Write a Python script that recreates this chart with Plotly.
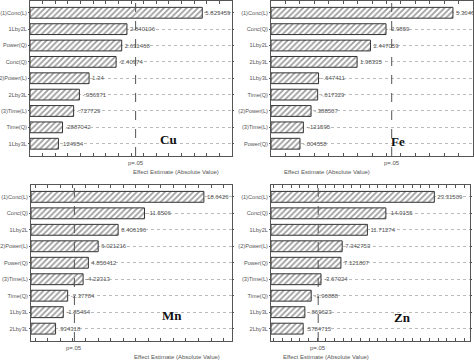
import plotly.graph_objects as go

W, H = 474, 361

# ---------------- data ----------------
cu_labels = ["(1)Conc(L)", "1Lby2L", "Power(Q)", "Conc(Q)", "(2)Power(L)", "2Lby3L", "(3)Time(L)", "Time(Q)", "1Lby3L"]
cu_values = [5.823459, 2.840106, 2.631468, -2.40974, 1.34, -0.956371, -0.727729, 0.2887042, 0.124954]

fe_labels = ["(1)Conc(L)", "Conc(Q)", "1Lby2L", "2Lby3L", "1Lby3L", "Time(Q)", "(2)Power(L)", "(3)Time(L)", "Power(Q)"]
fe_values = [5.30469, -2.9859, 2.447059, 1.98335, -0.647411, -0.617329, -0.388507, -0.121595, -0.004558]

mn_labels = ["(1)Conc(L)", "Conc(Q)", "1Lby2L", "(2)Power(L)", "Power(Q)", "(3)Time(L)", "Time(Q)", "1Lby3L", "2Lby3L"]
mn_values = [18.6426, -11.5506, 8.406196, 6.021216, 4.850412, -4.22313, -2.37784, -1.85464, 0.934318]

zn_labels = ["(1)Conc(L)", "Conc(Q)", "1Lby2L", "(2)Power(L)", "Power(Q)", "(3)Time(L)", "Time(Q)", "1Lby3L", "2Lby3L"]
zn_values = [23.31509, -14.9155, 11.71274, 7.342753, 7.121807, -3.67024, -1.96888, -0.869623, 0.5784715]

p05_t = 3.182446  # critical t at p=.05
panel_names = ["Cu", "Fe", "Mn", "Zn"]

# ---------------- layout helpers ----------------
def fmt(v):
    s = f"{v:.7g}"
    if s.startswith("0."):
        s = s[1:]
    elif s.startswith("-0."):
        s = "-" + s[2:]
    return s

def px(x):
    return x / W

def py(y):
    return 1 - y / H

# pixel boxes (left, right, top, bottom), axis ranges, tick steps
panels = [
    dict(labels=cu_labels, values=cu_values, box=(30, 232, 0.5, 156), xr=(-1, 7), dt=0.5, name_xy=(168, 139)),
    dict(labels=fe_labels, values=fe_values, box=(271, 473, 0.5, 156), xr=(-1, 6), dt=0.5, name_xy=(407, 141)),
    dict(labels=mn_labels, values=mn_values, box=(31, 232, 184.5, 341), xr=(-2, 22), dt=1.5, name_xy=(172, 325)),
    dict(labels=zn_labels, values=zn_values, box=(271, 470, 184.5, 341), xr=(-5, 29.5), dt=1.5, name_xy=(413, 327)),
]

fig = go.Figure()
font_fam = "Liberation Sans, Arial, sans-serif"
axis_col = "#555555"

for i, p in enumerate(panels):
    n = "" if i == 0 else str(i + 1)
    l, r, t, b = p["box"]
    xmin = p["xr"][0]
    nlab = len(p["labels"])
    absvals = [abs(v) for v in p["values"]]
    fig.add_trace(go.Bar(
        y=p["labels"], x=[a - xmin for a in absvals], base=[xmin] * len(absvals),
        orientation="h", width=0.66,
        marker=dict(color="white", line=dict(color="#333333", width=1),
                    pattern=dict(shape="/", size=4, solidity=0.4, fgcolor="#333333", bgcolor="white")),
        text=[fmt(v) for v in p["values"]], textposition="outside",
        textfont=dict(size=6, color="#555555", family=font_fam),
        cliponaxis=False, showlegend=False, hoverinfo="skip",
        xaxis="x" + n, yaxis="y" + n,
    ))
    fig.layout["xaxis" + n] = dict(
        domain=[px(l), px(r)], range=list(p["xr"]), anchor="y" + n, automargin=False,
        showgrid=False, zeroline=False, showticklabels=False,
        ticks="inside", ticklen=3, tickcolor=axis_col, dtick=p["dt"], tick0=0,
        showline=True, linecolor=axis_col, linewidth=1, mirror="ticks",
    )
    fig.layout["yaxis" + n] = dict(
        domain=[py(b), py(t)], anchor="x" + n, type="category", automargin=False,
        range=[nlab - 0.25, -0.75],
        showgrid=True, gridcolor="#bbbbbb", griddash="dot", gridwidth=1,
        ticks="outside", ticklen=1, tickcolor=axis_col,
        tickfont=dict(size=5.6, color="#555555", family=font_fam),
        showline=True, linecolor=axis_col, linewidth=1, mirror="ticks",
    )
    # p=.05 line
    fig.add_shape(type="line", xref="x" + n, yref="paper",
                  x0=p05_t, x1=p05_t, y0=py(b), y1=py(t),
                  line=dict(color="#555555", width=1, dash="dash"))
    fig.add_annotation(xref="x" + n, yref="paper", x=p05_t, y=py(b + 2),
                       text="p=.05", showarrow=False, yanchor="top",
                       font=dict(size=6, color="#555555", family=font_fam))
    fig.add_annotation(xref="paper", yref="paper", x=px((l + r) / 2), y=py(b + 11),
                       text="Effect Estimate (Absolute Value)", showarrow=False, yanchor="top",
                       font=dict(size=6, color="#555555", family=font_fam))
    nx, ny = p["name_xy"]
    fig.add_annotation(xref="paper", yref="paper", x=px(nx), y=py(ny),
                       text="<b>" + panel_names[i] + "</b>", showarrow=False,
                       font=dict(size=13, color="#111111", family="Liberation Serif, Times New Roman, serif"))

fig.update_layout(width=W, height=H, margin=dict(l=0, r=0, t=0, b=0),
                  paper_bgcolor="white", plot_bgcolor="white", bargap=0.3)

fig.write_html("out.html", config={"displayModeBar": False},
               post_script="document.body.style.margin='0';document.body.style.overflow='hidden';")
